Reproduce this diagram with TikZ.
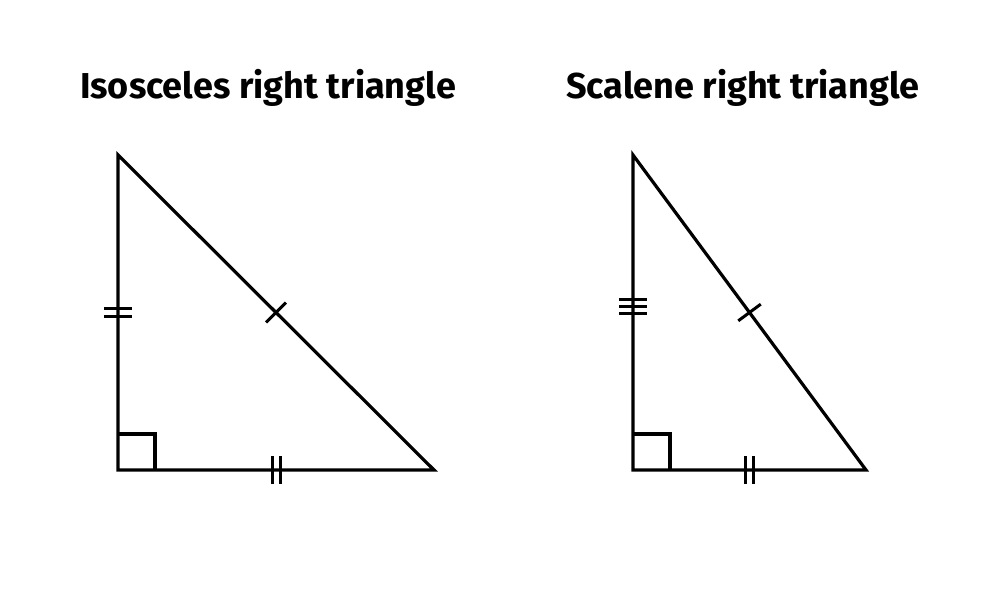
\documentclass[tikz,border=0pt]{standalone}
\usepackage{fontspec}
\setmainfont{Fira Sans}
\usetikzlibrary{calc}

\tikzset{
  side/.style={line width=3.2pt, line join=miter},
  tick/.style={line width=3pt},
  title/.style={font=\bfseries\fontsize{36}{42}\selectfont, inner sep=0pt}
}

\begin{document}
\begin{tikzpicture}[x=1pt,y=-1pt]
                \useasboundingbox (0,0) rectangle (1000,599);
                
                % isosceles
                \coordinate (iTop) at (118,155);
                \coordinate (iCor) at (118,470);
                \coordinate (iEnd) at (434,470);
                \draw[side] (iTop) -- (iCor) -- (iEnd) -- cycle;
                \draw[side] ($(iCor)+(0,-36)$) coordinate (iSq) -| ($(iCor)+(37,0)$);
                
                \draw[tick] ($(iTop)!0.5!(iCor)+(-14,-4)$) -- ++(28,0);
                \draw[tick] ($(iTop)!0.5!(iCor)+(-14,4)$) -- ++(28,0);
                \draw[tick] ($(iCor)!0.5!(iEnd)+(-4,-14)$) -- ++(0,28);
                \draw[tick] ($(iCor)!0.5!(iEnd)+(4,-14)$) -- ++(0,28);
                \coordinate (iMid) at ($(iTop)!0.5!(iEnd)$);
                \draw[tick] ($(iMid)!14pt!90:(iEnd)$) -- ($(iMid)!14pt!-90:(iEnd)$);
                
                \node[title] (iName) at (268,88) {Isosceles right triangle};
                
                % scalene
                \coordinate (sTop) at (633,155);
                \coordinate (sCor) at (633,470);
                \coordinate (sEnd) at (866,470);
                \draw[side] (sTop) -- (sCor) -- (sEnd) -- cycle;
                \draw[side] ($(sCor)+(0,-36)$) coordinate (sSq) -| ($(sCor)+(37,0)$);
                
                \foreach \dy in {-7,0,7}
                  \draw[tick] ($(sTop)!0.5!(sCor)+(-14,\dy-6)$) -- ++(28,0);
                \draw[tick] ($(sCor)!0.5!(sEnd)+(-4,-14)$) -- ++(0,28);
                \draw[tick] ($(sCor)!0.5!(sEnd)+(4,-14)$) -- ++(0,28);
                \coordinate (sMid) at ($(sTop)!0.5!(sEnd)$);
                \draw[tick] ($(sMid)!14pt!90:(sEnd)$) -- ($(sMid)!14pt!-90:(sEnd)$);
                
                \node[title] (sName) at (743,88) {Scalene right triangle};
\end{tikzpicture}
\end{document}
